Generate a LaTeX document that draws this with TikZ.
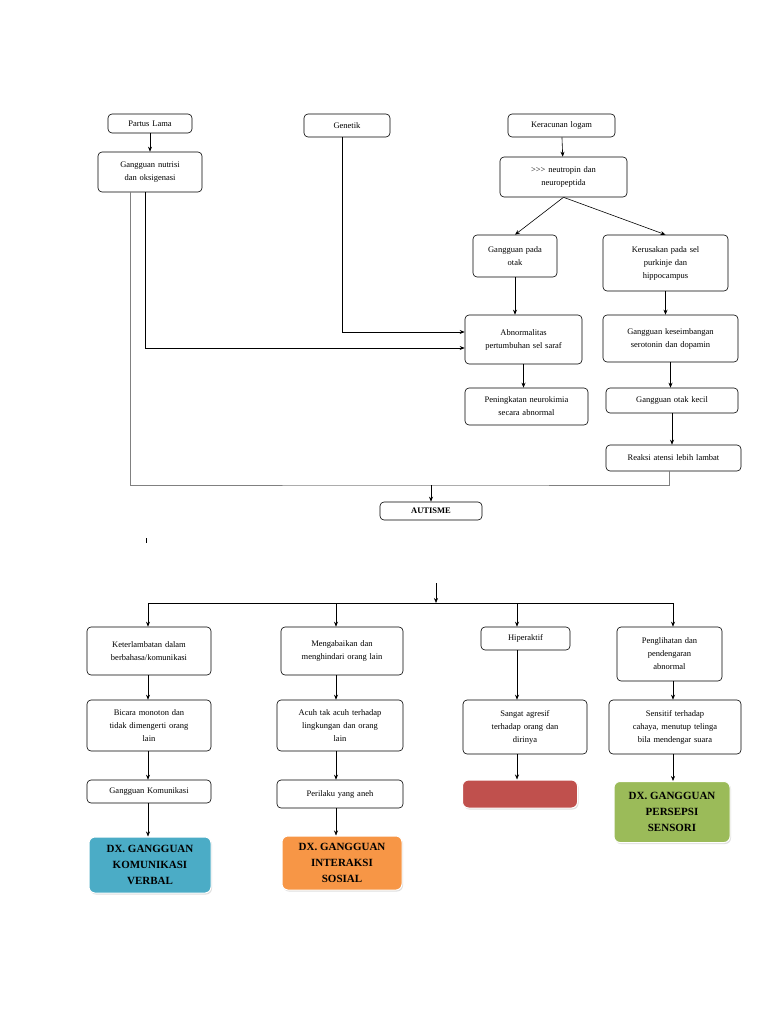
\documentclass[tikz,border=0pt]{standalone}
\usepackage{fontspec}
\setmainfont{Liberation Serif}
\usetikzlibrary{arrows.meta,shadows}
\begin{document}
\begin{tikzpicture}[x=1pt,y=-1pt,
  bx/.style={draw,rounded corners=4pt,align=center,font=\fontsize{8.5}{13}\selectfont,inner sep=1pt,line width=0.6pt},
  dx/.style={rounded corners=6pt,align=center,font=\fontsize{11}{16}\selectfont\bfseries,draw=white,line width=1pt,drop shadow={shadow xshift=1pt,shadow yshift=-1.5pt,fill=gray!50}},
  ar/.style={-{Stealth[length=5pt,width=4pt]},line width=0.6pt},
  ln/.style={line width=0.6pt}]
\useasboundingbox (0,0) rectangle (768,1024);
\def\B#1#2#3#4#5#6{\node[bx,minimum width=#4-#2,minimum height=#5-#3,text width=#4-#2-6] (#1) at ({(#2+#4)/2},{(#3+#5)/2}) {#6};}
\B{pl}{108}{114}{192}{133}{Partus Lama}
\B{gen}{304}{114}{390}{137}{Genetik}
\B{kl}{508}{114}{615}{137}{Keracunan logam}
\B{gn}{98}{152}{202}{192}{Gangguan nutrisi\\dan oksigenasi}
\B{np}{500}{157}{627}{197}{>{}>{}> neutropin dan\\neuropeptida}
\B{go}{473}{235}{557}{277}{Gangguan pada\\otak}
\B{ks}{603}{235}{728}{291}{Kerusakan pada sel\\purkinje dan\\hippocampus}
\B{ab}{465}{315}{582}{364}{Abnormalitas\\pertumbuhan sel saraf}
\B{gk}{603}{315}{738}{362}{Gangguan keseimbangan\\serotonin dan dopamin}
\B{pn}{465}{388}{588}{425}{Peningkatan neurokimia\\secara abnormal}
\B{ok}{606}{388}{738}{413}{Gangguan otak kecil}
\B{ra}{606}{445}{741}{471}{Reaksi atensi lebih lambat}
\node[bx,minimum width=102,minimum height=18,font=\fontsize{8.5}{13}\selectfont\bfseries] (au) at (431,511) {AUTISME};
\draw[ar] (pl) -- (gn);
\draw[ar] (kl) -- (np);
\draw[ar] (np.south) -- (go.north);
\draw[ar] (np.south) -- (ks.north);
\draw[ar] (go) -- (go|-ab.north);
\draw[ar] (ab) -- (ab|-pn.north);
\draw[ar] (ks) -- (ks|-gk.north);
\draw[ar] (gk) -- (gk|-ok.north);
\draw[ar] (ok) -- (ok|-ra.north);
\draw[ar] (gen.south-|342,0) |- (ab.west|-0,332);
\draw[ar] (gn.south-|145,0) |- (ab.west|-0,348);
\coordinate (j) at (431,485);
\draw[ln,gray] (gn.south-|130,0) |- (j) -| (ra.south-|669,0);
\draw[ar] (j) -- (au);
\draw[ln] (146,538) -- (146,543);
% bottom
\coordinate (top) at (436,583);
\coordinate (bus) at (436,603);
\draw[ar] (top) -- (bus);
\B{a1}{87}{627}{211}{675}{Keterlambatan dalam\\berbahasa/komunikasi}
\B{a2}{87}{700}{211}{751}{Bicara monoton dan\\tidak dimengerti orang\\lain}
\B{a3}{87}{780}{211}{803}{Gangguan Komunikasi}
\B{b1}{281}{627}{403}{675}{Mengabaikan dan\\menghindari orang lain}
\B{b2}{277}{700}{403}{751}{Acuh tak acuh terhadap\\lingkungan dan orang\\lain}
\B{b3}{277}{780}{403}{808}{Perilaku yang aneh}
\B{c1}{481}{627}{570}{650}{Hiperaktif}
\B{c2}{463}{700}{587}{754}{Sangat agresif\\terhadap orang dan\\dirinya}
\B{d1}{617}{627}{722}{681}{Penglihatan dan\\pendengaran\\abnormal}
\B{d2}{609}{700}{741}{754}{Sensitif terhadap\\cahaya, menutup telinga\\bila mendengar suara}
\node[dx,fill={rgb,255:red,75;green,172;blue,198},minimum width=122,minimum height=56] (a4) at (150,865) {DX. GANGGUAN\\KOMUNIKASI\\VERBAL};
\node[dx,fill={rgb,255:red,247;green,150;blue,70},minimum width=120,minimum height=54] (b4) at (342,863) {DX. GANGGUAN\\INTERAKSI\\SOSIAL};
\node[dx,fill={rgb,255:red,192;green,80;blue,77},minimum width=115,minimum height=28] (c3) at (520,794) {};
\node[dx,fill={rgb,255:red,155;green,187;blue,89},minimum width=116,minimum height=61] (d3) at (672,812) {DX. GANGGUAN\\PERSEPSI\\SENSORI};
\draw[ln] (148,603) -- (673,603);
\draw[ar] (148,603) -- (a1.north-|148,0);
\draw[ar] (336,603) -- (b1.north-|336,0);
\draw[ar] (517,603) -- (c1.north-|517,0);
\draw[ar] (673,603) -- (d1.north-|673,0);
\draw[ar] (a1.south-|148,0) -- (a2.north-|148,0);
\draw[ar] (a2.south-|148,0) -- (a3.north-|148,0);
\draw[ar] (a3.south-|148,0) -- (a4.north-|148,0);
\draw[ar] (b1.south-|336,0) -- (b2.north-|336,0);
\draw[ar] (b2.south-|336,0) -- (b3.north-|336,0);
\draw[ar] (b3.south-|336,0) -- (b4.north-|336,0);
\draw[ar] (c1.south-|517,0) -- (c2.north-|517,0);
\draw[ar] (c2.south-|517,0) -- (c3.north-|517,0);
\draw[ar] (d1.south-|673,0) -- (d2.north-|673,0);
\draw[ar] (d2.south-|673,0) -- (d3.north-|673,0);
\end{tikzpicture}
\end{document}
